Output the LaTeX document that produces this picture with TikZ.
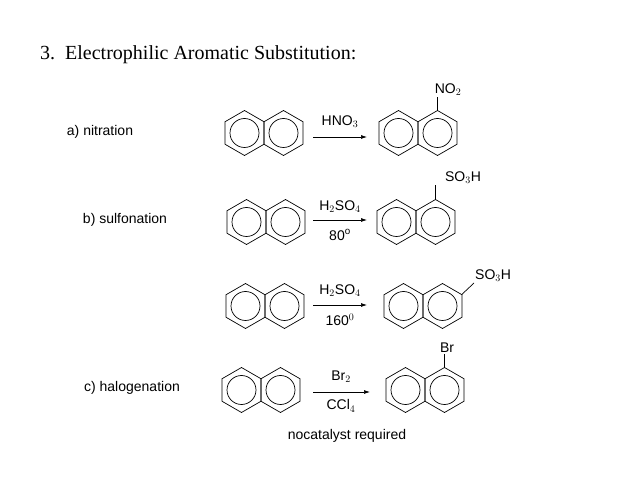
\documentclass[tikz,border=0pt]{standalone}
\usepackage{fontspec}
\setmainfont{Liberation Sans}
\newfontfamily\titlefont{Liberation Serif}
\usetikzlibrary{arrows.meta}
\tikzset{bond/.style={line width=0.7pt},
  rxn/.style={line width=0.7pt,-{Latex[length=6pt,width=4pt]}},
  lbl/.style={font=\fontsize{14}{16}\selectfont,inner sep=0pt},
  reag/.style={font=\fontsize{14}{16}\selectfont,inner sep=0pt}}
\newcommand{\ring}[3]{% name, x, y
  \coordinate (#1) at (#2,#3);
  \draw[bond] (#2,#3) ++(30:22.5) -- ++(150:22.5) -- ++(210:22.5) -- ++(270:22.5) -- ++(330:22.5) -- ++(30:22.5) -- cycle;
  \draw[bond] (#2,#3) circle (14.5);}
\newcommand{\naph}[3]{% name, cx, cy
  \ring{#1L}{#2-19.5}{#3}\ring{#1R}{#2+19.5}{#3}}
\begin{document}
\begin{tikzpicture}[x=1pt,y=-1pt]
\useasboundingbox (0,0) rectangle (638,478);
\node[anchor=west,inner sep=0pt,font=\titlefont\fontsize{20}{24}\selectfont] (title) at (40,55) {3.\ \ Electrophilic Aromatic Substitution:};
\node[lbl] (la) at (100,132) {a) nitration};
\node[lbl] (lb) at (125,220) {b) sulfonation};
\node[lbl] (lc) at (132,388) {c) halogenation};
% row 1
\naph{r1}{264}{133}
\naph{p1}{418}{133}
\coordinate (p1top) at (437.5,110.5);
\node[reag,anchor=south] (no2) at (448,96) {NO$_2$};
\draw[bond] (p1top) -- (437.5,97);
\coordinate (a1s) at (313,137);\coordinate (a1e) at (367,137);
\draw[rxn] (a1s) -- (a1e);
\node[reag] (hno3) at (340,122) {HNO$_3$};
% row 2
\naph{r2}{266}{222}
\naph{p2}{416}{222}
\coordinate (p2top) at (435.5,199.5);
\node[reag,anchor=south] (so3a) at (463,184) {SO$_3$H};
\draw[bond] (p2top) -- (435.5,185);
\coordinate (a2s) at (313,220);\coordinate (a2e) at (367,220);
\draw[rxn] (a2s) -- (a2e);
\node[reag] (h2so4a) at (340,207) {H$_2$SO$_4$};
\node[reag] (t80) at (340,235) {80$^{\mathrm{o}}$};
% row 3
\naph{r3}{265}{306}
\naph{p3}{423}{306}
\coordinate (p3ur) at (461.5,294.75);
\node[reag,anchor=west] (so3b) at (475,276) {SO$_3$H};
\draw[bond] (p3ur) -- (474,283);
\coordinate (a3s) at (313,305);\coordinate (a3e) at (367,305);
\draw[rxn] (a3s) -- (a3e);
\node[reag] (h2so4b) at (340,291) {H$_2$SO$_4$};
\node[reag] (t160) at (340,320) {160$^{0}$};
% row 4
\naph{r4}{261}{390}
\naph{p4}{425}{390}
\coordinate (p4top) at (444.5,367.5);
\node[reag,anchor=south] (br) at (447,353) {Br};
\draw[bond] (p4top) -- (444.5,354);
\coordinate (a4s) at (313,392);\coordinate (a4e) at (370,392);
\draw[rxn] (a4s) -- (a4e);
\node[reag] (br2) at (341,377) {Br$_2$};
\node[reag] (ccl4) at (341,406) {CCl$_4$};
\node[reag] (note) at (347,436) {nocatalyst required};
\end{tikzpicture}
\end{document}
